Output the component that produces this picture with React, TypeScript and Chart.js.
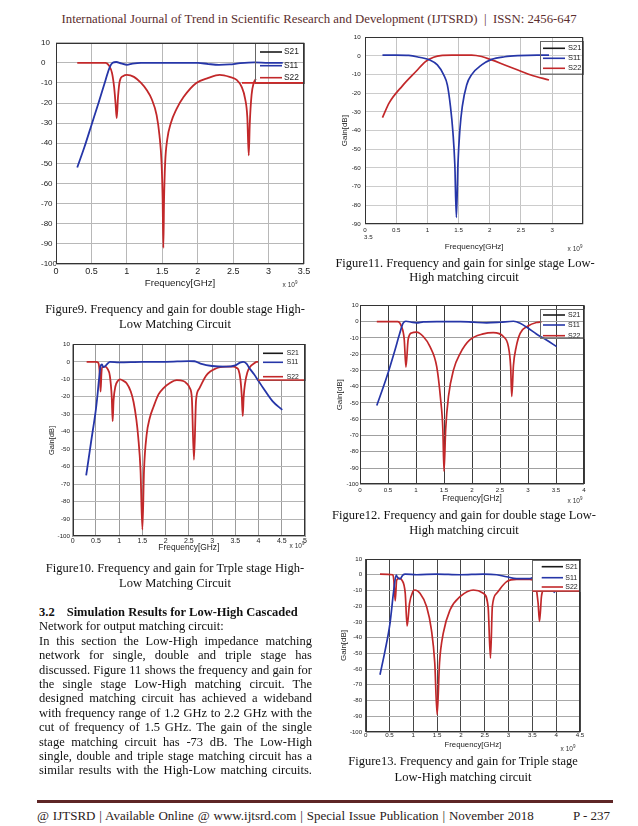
import React, { useEffect, useRef } from "react";
import { Chart, registerables } from "chart.js";

Chart.register(...registerables);

// ---------------- data ----------------
const legendNames = ["S21", "S11", "S22"];
const seriesColors = ["#1a1a1a", "#2636a8", "#c2282a"];
const freqTickStep = 0.5;
const gainTickStep = 10;

// Figure 9 – double stage High-Low
const fig9S11Freq = [0.3, 0.4, 0.5, 0.6, 0.7, 0.76, 0.8, 0.85, 0.92, 1.0, 1.08, 1.2, 1.6, 2.0, 2.15, 2.3, 2.45, 2.6, 2.8, 3.0, 3.2];
const fig9S11Gain = [-52, -42, -31, -20, -8.5, -2, 0, 0.4, -0.3, -1, -0.4, 0, 0, 0, -0.6, -1, -0.8, -0.2, 0.2, 0, 0];
const fig9S22Freq = [0.3, 0.5, 0.7, 0.75, 0.79, 0.82, 0.84, 0.857, 0.875, 0.9, 0.95, 1.0, 1.1, 1.2, 1.28, 1.35, 1.42, 1.46, 1.49, 1.505, 1.515, 1.525, 1.54, 1.57, 1.62, 1.7, 1.8, 1.98, 2.15, 2.31, 2.45, 2.55, 2.62, 2.67, 2.7, 2.72, 2.735, 2.76, 2.79, 2.82];
const fig9S22Gain = [0, 0, 0, -1.5, -5, -12, -20, -27.5, -17, -9, -6.5, -6, -7, -10, -13.5, -18, -26, -36, -50, -68, -92, -68, -50, -38, -30, -23, -17, -10, -7.5, -6, -7, -8.5, -12, -18, -27, -46, -30, -16, -10, -8];

// Figure 10 – triple stage High-Low
const fig10S11Freq = [0.29, 0.4, 0.5, 0.53, 0.57, 0.6, 0.63, 0.66, 0.7, 0.75, 0.8, 1.0, 1.5, 2.0, 2.5, 2.62, 2.75, 3.0, 3.3, 3.5, 3.6, 3.67, 3.74, 3.8, 3.9, 4.0, 4.1, 4.3, 4.51];
const fig10S11Gain = [-65, -45, -27, -20, -9, -2.5, -1.5, -3, -2.5, -1, 0, -0.3, 0, 0, 0.4, 0.3, -1, -2.4, -2.8, -2, -0.5, 0, -1, -3.5, -7, -11, -15, -22.5, -27.5];
const fig10S22Freq = [0.3, 0.5, 0.55, 0.58, 0.6, 0.62, 0.64, 0.7, 0.75, 0.8, 0.84, 0.86, 0.88, 0.92, 0.97, 1.02, 1.1, 1.16, 1.25, 1.31, 1.37, 1.41, 1.46, 1.5, 1.535, 1.59, 1.66, 1.74, 1.85, 1.95, 2.1, 2.24, 2.38, 2.45, 2.52, 2.565, 2.61, 2.655, 2.72, 2.78, 2.87, 2.96, 3.07, 3.17, 3.3, 3.46, 3.53, 3.57, 3.61, 3.64, 3.66, 3.68, 3.71, 3.76, 3.82, 3.9, 3.96, 4.05];
const fig10S22Gain = [0, 0, -0.5, -6, -17, -6, -3, -2.8, -4, -8, -20, -34, -22, -14, -11, -10, -11, -12.3, -17, -23, -33, -43, -62, -96, -62, -42, -32, -25.7, -18.5, -15.2, -12, -10.5, -11, -12.3, -15, -21, -56, -22, -15.5, -12.3, -8, -5.6, -4, -3.1, -2.8, -2.8, -3.5, -4.7, -10, -20, -31, -20, -12.3, -6, -2.8, -1, 0, 0];

// Figure 11 – single stage Low-High
const fig11S11Freq = [0.28, 0.5, 0.7, 0.87, 1.03, 1.16, 1.26, 1.32, 1.37, 1.41, 1.44, 1.465, 1.49, 1.52, 1.56, 1.63, 1.71, 1.87, 2.03, 2.24, 2.45, 2.76, 2.95];
const fig11S11Gain = [0.5, 0.5, 0.3, -0.7, -2, -4.8, -10, -15.5, -27, -41, -58, -86.5, -58, -40, -27, -15.5, -10, -4.8, -1.8, -0.4, 0.2, 0.5, 0.5];
const fig11S22Freq = [0.28, 0.39, 0.6, 0.82, 0.97, 1.1, 1.24, 1.39, 1.71, 1.87, 2.03, 2.24, 2.45, 2.66, 2.95];
const fig11S22Gain = [-33, -25, -16, -8.2, -3, -0.7, 0.3, 0.5, 0.5, -0.3, -2.1, -4.8, -7.5, -10.2, -12.9];

// Figure 12 – double stage Low-High
const fig12S11Freq = [0.3, 0.48, 0.625, 0.71, 0.77, 0.82, 0.92, 1.01, 1.13, 1.37, 1.79, 2.02, 2.26, 2.5, 2.74, 2.86, 3.0, 3.15, 3.33, 3.51];
const fig12S11Gain = [-51.6, -33.8, -17.4, -7.2, -1, 0.2, -0.4, -0.8, -0.2, 0, 0, -0.4, -0.8, -0.4, 0.2, -1, -4, -7.6, -11.3, -15.4];
const fig12S22Freq = [0.3, 0.67, 0.74, 0.79, 0.82, 0.86, 0.92, 1.01, 1.13, 1.25, 1.37, 1.44, 1.48, 1.5, 1.53, 1.58, 1.67, 1.79, 1.96, 2.2, 2.38, 2.56, 2.65, 2.69, 2.71, 2.74, 2.79, 2.86, 3.0, 3.15, 3.24];
const fig12S22Gain = [0, 0, -3, -11, -28, -11, -7, -6.5, -9.2, -15.4, -27.7, -48, -66.6, -92, -66, -46, -29.7, -19.5, -11.3, -7.6, -6.8, -9.2, -15.4, -27.7, -46, -27, -15.4, -7.2, -2.7, -0.6, -0.2];

// Figure 13 – triple stage Low-High
const fig13S11Freq = [0.3, 0.41, 0.51, 0.59, 0.64, 0.66, 0.72, 0.78, 0.83, 1.07, 1.49, 1.98, 2.47, 2.75, 2.96, 3.17, 3.45, 3.55, 3.62, 3.8, 3.97];
const fig13S11Gain = [-63.6, -47.8, -30.9, -9.7, -0.2, -1.3, -2.7, -0.2, 0.4, 0, 0.4, 0, 0.4, 0, -1.3, -2.5, -2.5, -0.8, 0.2, -5, -11.5];
const fig13S22Freq = [0.3, 0.57, 0.59, 0.62, 0.65, 0.71, 0.76, 0.83, 0.87, 0.92, 0.99, 1.03, 1.14, 1.28, 1.38, 1.45, 1.5, 1.55, 1.63, 1.77, 1.98, 2.26, 2.47, 2.57, 2.62, 2.66, 2.75, 2.96, 3.17, 3.45, 3.55, 3.62, 3.65, 3.69, 3.71];
const fig13S22Gain = [0.4, 0, -3.4, -16.6, -3.4, -2.3, -3.4, -11.8, -32.6, -18.2, -10.8, -9.7, -11.8, -20.3, -35, -56, -89, -56, -37, -22.4, -14, -9.7, -11.8, -20.3, -53, -20, -11.8, -4.4, -3, -3, -4.4, -18, -29.7, -14, -10.7];

// ---------------- layout / style ----------------
const SANS = '"Liberation Sans", Arial, sans-serif';
const SERIF = '"Liberation Serif", "Times New Roman", serif';

type LegendCfg = {
  w: number; top: number; h: number; rows: number[];
  lineX0: number; lineX1: number; textX: number; font: number;
  fill: boolean; bottom: string; extendLeft: number;
};

type FigCfg = {
  plot: number[]; margin: number[];
  xMax: number; yMin: number; yMax: number;
  s11: number[][]; s22: number[][];
  xGrid: string; yGrid: string;
  yFont: number; yPad: number; yFar?: boolean;
  xFont: number; xPad: number; xHideAbove?: number;
  yTitle?: { font: number; x: number };
  xTitleFont: number; xTitleY: number;
  lineWidth: number;
  legend: LegendCfg;
};

const figures: FigCfg[] = [
  {
    plot: [56, 42.7, 304, 264], margin: [14.3, 10, 12, 30],
    xMax: 3.5, yMin: -100, yMax: 10,
    s11: [fig9S11Freq, fig9S11Gain], s22: [fig9S22Freq, fig9S22Gain],
    xGrid: "#b8b8b8", yGrid: "#b8b8b8",
    yFont: 8, yPad: 0, yFar: true, xFont: 9, xPad: 2.3,
    xTitleFont: 9.7, xTitleY: 283, lineWidth: 1.8,
    legend: { w: 49, top: 0, h: 40.2, rows: [9.3, 23, 35], lineX0: 5, lineX1: 27, textX: 29, font: 8.4, fill: false, bottom: "#d02828", extendLeft: 13 },
  },
  {
    plot: [72.7, 344.3, 305, 536.7], margin: [40, 8, 12, 20],
    xMax: 5, yMin: -100, yMax: 10,
    s11: [fig10S11Freq, fig10S11Gain], s22: [fig10S22Freq, fig10S22Gain],
    xGrid: "#9c9c9c", yGrid: "#b4b4b4",
    yFont: 6.2, yPad: 2.7, xFont: 7, xPad: 0.3,
    yTitle: { font: 7.5, x: 51.7 },
    xTitleFont: 8.4, xTitleY: 548, lineWidth: 1.8,
    legend: { w: 46.7, top: 0, h: 35.7, rows: [9, 18, 32.4], lineX0: 4.7, lineX1: 24.7, textX: 28.4, font: 6.8, fill: true, bottom: "#c83030", extendLeft: 0 },
  },
  {
    plot: [365, 37.3, 583.3, 224], margin: [40, 8, 12, 30],
    xMax: 3.5, yMin: -90, yMax: 10,
    s11: [fig11S11Freq, fig11S11Gain], s22: [fig11S22Freq, fig11S22Gain],
    xGrid: "#c4c4c4", yGrid: "#cccccc",
    yFont: 6.2, yPad: 4.3, xFont: 6.2, xPad: 2.3, xHideAbove: 3.2,
    yTitle: { font: 8, x: 345 },
    xTitleFont: 8.1, xTitleY: 246.7, lineWidth: 1.7,
    legend: { w: 43.3, top: 3.7, h: 33.3, rows: [7.3, 17.3, 27.3], lineX0: 3, lineX1: 25, textX: 28, font: 7.5, fill: false, bottom: "#777777", extendLeft: 0 },
  },
  {
    plot: [360, 305.3, 584, 484.3], margin: [40, 8, 12, 20],
    xMax: 4, yMin: -100, yMax: 10,
    s11: [fig12S11Freq, fig12S11Gain], s22: [fig12S22Freq, fig12S22Gain],
    xGrid: "#3c3c3c", yGrid: "#a0a0a0",
    yFont: 6, yPad: 1.5, xFont: 6.2, xPad: 2,
    yTitle: { font: 8, x: 340 },
    xTitleFont: 8.2, xTitleY: 498.5, lineWidth: 1.7,
    legend: { w: 44, top: 4, h: 29, rows: [5.7, 15.7, 26.4], lineX0: 3, lineX1: 25, textX: 28, font: 7, fill: false, bottom: "#777777", extendLeft: 0 },
  },
  {
    plot: [365.7, 559, 580, 732], margin: [40, 8, 12, 22],
    xMax: 4.5, yMin: -100, yMax: 10,
    s11: [fig13S11Freq, fig13S11Gain], s22: [fig13S22Freq, fig13S22Gain],
    xGrid: "#474747", yGrid: "#a8a8a8",
    yFont: 6, yPad: 3.7, xFont: 6.2, xPad: 0,
    yTitle: { font: 8, x: 344 },
    xTitleFont: 7.8, xTitleY: 745, lineWidth: 1.7,
    legend: { w: 47.7, top: 1, h: 31, rows: [6.7, 17.7, 27], lineX0: 9.4, lineX1: 30.7, textX: 33, font: 7, fill: true, bottom: "#c83030", extendLeft: 0 },
  },
];

function toPoints(xs: number[], ys: number[]) {
  return xs.map((x, i) => ({ x, y: ys[i] }));
}

function GainPlot({ cfg }: { cfg: FigCfg }) {
  const ref = useRef<HTMLCanvasElement>(null);
  const [l, t, r, b] = cfg.plot;
  const [ml, mt, mr, mb] = cfg.margin;
  const cL = Math.floor(l - ml);
  const cT = Math.floor(t - mt);
  const cR = Math.ceil(r + mr);
  const cB = Math.ceil(b + mb);
  const W = cR - cL;
  const H = cB - cT;

  useEffect(() => {
    const yW = l - cL;
    const xH = cB - b;
    const L = cfg.legend;
    const deco = {
      id: "deco",
      afterDatasetsDraw(chart: any) {
        const ctx = chart.ctx as CanvasRenderingContext2D;
        const ca = chart.chartArea;
        const bx = ca.right - L.w;
        const by = ca.top + L.top;
        ctx.save();
        if (L.fill) {
          ctx.fillStyle = "#ffffff";
          ctx.fillRect(bx, by, L.w, L.h);
        }
        ctx.strokeStyle = "#666";
        ctx.lineWidth = 1;
        ctx.strokeRect(Math.round(bx) + 0.5, Math.round(by) + 0.5, Math.round(L.w), Math.round(L.h));
        ctx.font = `${L.font}px ${SANS}`;
        ctx.textBaseline = "middle";
        ctx.textAlign = "left";
        legendNames.forEach((name, i) => {
          const yy = by + L.rows[i];
          ctx.strokeStyle = seriesColors[i];
          ctx.lineWidth = 1.6;
          ctx.beginPath();
          ctx.moveTo(bx + L.lineX0, yy);
          ctx.lineTo(bx + L.lineX1, yy);
          ctx.stroke();
          ctx.fillStyle = "#222";
          ctx.fillText(name, bx + L.textX, yy);
        });
        ctx.strokeStyle = L.bottom;
        ctx.lineWidth = 1.6;
        ctx.beginPath();
        ctx.moveTo(bx - L.extendLeft, by + L.h);
        ctx.lineTo(ca.right, by + L.h);
        ctx.stroke();
        ctx.strokeStyle = "#333";
        ctx.lineWidth = 1;
        ctx.strokeRect(
          Math.round(ca.left) + 0.5,
          Math.round(ca.top) + 0.5,
          Math.round(ca.right - ca.left) - 1,
          Math.round(ca.bottom - ca.top) - 1
        );
        ctx.restore();
      },
    };

    const lineStyle = {
      pointRadius: 0,
      borderWidth: cfg.lineWidth,
      fill: false,
      cubicInterpolationMode: "monotone" as const,
    };

    const chart = new Chart(ref.current as HTMLCanvasElement, {
      type: "line",
      data: {
        datasets: [
          { label: "S11", data: toPoints(cfg.s11[0], cfg.s11[1]), borderColor: seriesColors[1], ...lineStyle },
          { label: "S22", data: toPoints(cfg.s22[0], cfg.s22[1]), borderColor: seriesColors[2], ...lineStyle },
        ],
      },
      options: {
        responsive: false,
        animation: false,
        devicePixelRatio: 1,
        events: [],
        layout: { autoPadding: false, padding: { left: 0, top: t - cT, right: cR - r, bottom: 0 } },
        plugins: { legend: { display: false }, tooltip: { enabled: false }, title: { display: false } },
        scales: {
          x: {
            type: "linear",
            min: 0,
            max: cfg.xMax,
            afterFit: (s: any) => { s.height = xH; },
            ticks: {
              stepSize: freqTickStep,
              autoSkip: false,
              maxRotation: 0,
              minRotation: 0,
              padding: cfg.xPad,
              color: "#222",
              font: { family: SANS, size: cfg.xFont },
              callback: (v: any) =>
                cfg.xHideAbove !== undefined && Number(v) > cfg.xHideAbove ? "" : String(Math.round(Number(v) * 10) / 10),
            },
            grid: { color: cfg.xGrid, lineWidth: 1, drawTicks: false },
            border: { display: false },
            title: {
              display: true,
              text: "Frequency[GHz]",
              color: "#222",
              font: { family: SANS, size: cfg.xTitleFont },
              padding: { top: 0, bottom: cB - cfg.xTitleY - cfg.xTitleFont * 0.6 },
            },
          },
          y: {
            type: "linear",
            min: cfg.yMin,
            max: cfg.yMax,
            afterFit: (s: any) => { s.width = yW; },
            ticks: {
              stepSize: gainTickStep,
              autoSkip: false,
              padding: cfg.yPad,
              crossAlign: cfg.yFar ? "far" : "near",
              color: "#222",
              font: { family: SANS, size: cfg.yFont },
              callback: (v: any) => String(Math.round(Number(v))),
            },
            grid: { color: cfg.yGrid, lineWidth: 1, drawTicks: false },
            border: { display: false },
            title: cfg.yTitle
              ? {
                  display: true,
                  text: "Gain[dB]",
                  color: "#222",
                  font: { family: SANS, size: cfg.yTitle.font },
                  padding: { top: cfg.yTitle.x - cL - cfg.yTitle.font * 0.6, bottom: 0 },
                }
              : { display: false },
          },
        },
      } as any,
      plugins: [deco],
    });
    return () => chart.destroy();
  }, []);

  return (
    <canvas
      ref={ref}
      width={W}
      height={H}
      style={{ position: "absolute", left: cL, top: cT, width: W, height: H }}
    />
  );
}

function Txt(props: any) {
  const { x, y, size, align = "center", bold, color, family = SERIF, children, wordSpacing } = props;
  const lh = size * 1.2;
  const style: any = {
    position: "absolute",
    top: y - lh / 2,
    lineHeight: `${lh}px`,
    fontSize: size,
    fontFamily: family,
    whiteSpace: "pre",
    color: color || "#111",
    fontWeight: bold ? "bold" : "normal",
  };
  if (wordSpacing) style.wordSpacing = wordSpacing;
  if (align === "center") {
    style.left = x - 300;
    style.width = 600;
    style.textAlign = "center";
  } else if (align === "left") {
    style.left = x;
  } else {
    style.left = x - 600;
    style.width = 600;
    style.textAlign = "right";
  }
  return <div style={style}>{children}</div>;
}

function Exp({ x, y }: { x: number; y: number }) {
  return (
    <Txt x={x} y={y} size={6.5} family={SANS} color="#333">
      {"x 10"}
      <span style={{ fontSize: 4.5, position: "relative", top: -3 }}>9</span>
    </Txt>
  );
}

const bodyLines = [
  "In this section the Low-High impedance matching",
  "network for single, double and triple stage has",
  "discussed. Figure 11 shows the frequency and gain for",
  "the single stage Low-High matching circuit. The",
  "designed matching circuit has achieved a wideband",
  "with frequency range of 1.2 GHz to 2.2 GHz with the",
  "cut of frequency of 1.5 GHz. The gain of the single",
  "stage matching circuit has -73 dB. The Low-High",
  "single, double and triple stage matching circuit has a",
  "similar results with the High-Low matching circuits.",
];

export default function App() {
  return (
    <div
      style={{
        position: "absolute",
        left: 0,
        top: 0,
        width: 638,
        height: 826,
        background: "#ffffff",
        overflow: "hidden",
        fontFamily: SERIF,
        color: "#111",
      }}
    >
      <Txt x={319} y={20} size={12.8} color="#5b2e2e">
        {"International Journal of Trend in Scientific Research and Development (IJTSRD)  |  ISSN: 2456-647"}
      </Txt>

      {figures.map((f, i) => (
        <GainPlot key={i} cfg={f} />
      ))}

      <Exp x={290} y={285} />
      <Exp x={297} y={546} />
      <Exp x={575} y={249} />
      <Exp x={575} y={500.7} />
      <Exp x={568} y={749} />
      <Txt x={368.3} y={236.7} size={6.2} family={SANS} color="#222">3.5</Txt>

      <Txt x={175} y={309} size={12.5}>Figure9. Frequency and gain for double stage High-</Txt>
      <Txt x={175} y={324} size={12.5}>Low Matching Circuit</Txt>
      <Txt x={175} y={568} size={12.5}>Figure10. Frequency and gain for Trple stage High-</Txt>
      <Txt x={175} y={583} size={12.5}>Low Matching Circuit</Txt>
      <Txt x={465} y={263} size={12.5}>Figure11. Frequency and gain for sinlge stage Low-</Txt>
      <Txt x={464} y={277.5} size={12.5}>High matching circuit</Txt>
      <Txt x={464} y={515} size={12.5}>Figure12. Frequency and gain for double stage Low-</Txt>
      <Txt x={464} y={530.5} size={12.5}>High matching circuit</Txt>
      <Txt x={463} y={761} size={12.5}>Figure13. Frequency and gain for Triple stage</Txt>
      <Txt x={463} y={777} size={12.5}>Low-High matching circuit</Txt>

      <Txt x={39} y={612.2} size={12.5} align="left" bold>3.2</Txt>
      <Txt x={66.7} y={612.2} size={12.5} align="left" bold>Simulation Results for Low-High Cascaded</Txt>
      <Txt x={39} y={626.6} size={12.5} align="left">Network for output matching circuit:</Txt>
      {bodyLines.map((line, i) => (
        <div
          key={i}
          style={{
            position: "absolute",
            left: 39,
            top: 641 + i * 14.4 - 7.2,
            width: 273,
            lineHeight: "14.4px",
            fontSize: 12.5,
            fontFamily: SERIF,
            textAlign: "justify",
            textAlignLast: "justify" as any,
            whiteSpace: "nowrap",
            color: "#111",
          }}
        >
          {line}
        </div>
      ))}

      <div style={{ position: "absolute", left: 37, top: 800, width: 576, height: 3, background: "#5e2626" }} />
      <Txt x={37} y={816} size={13} align="left" color="#2a2020" wordSpacing={0.6}>
        {"@ IJTSRD | Available Online @ www.ijtsrd.com | Special Issue Publication | November 2018"}
      </Txt>
      <Txt x={610} y={816} size={13} align="right" color="#2a2020">P - 237</Txt>
    </div>
  );
}
